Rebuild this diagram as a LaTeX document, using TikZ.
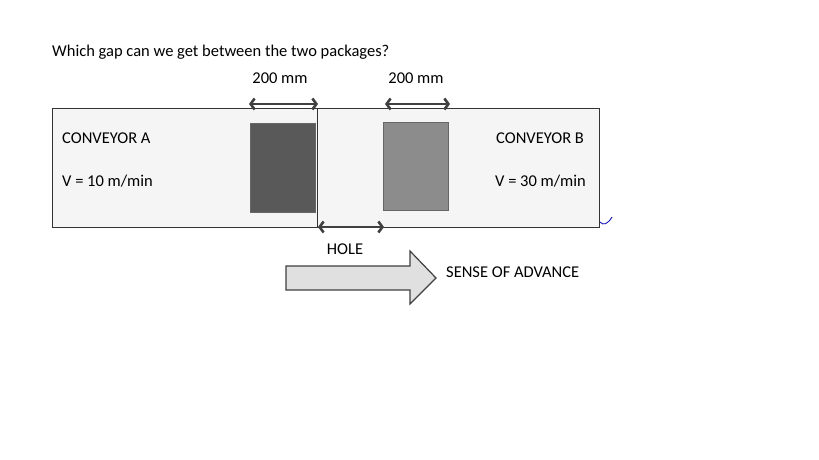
\documentclass[tikz,border=0pt]{standalone}
\usepackage{fontspec}
\setmainfont{Carlito}
\usetikzlibrary{arrows.meta}
\begin{document}
\begin{tikzpicture}[x=1pt,y=-1pt,
  lbl/.style={font=\fontsize{16.5}{19}\selectfont,inner sep=0pt},
  belt/.style={draw=black!80,fill=black!4,line width=0.6pt},
  pkg/.style={draw=black!60,line width=0.5pt},
  dim/.style={{Straight Barb[length=4pt,width=11pt,line width=2.6pt]}-{Straight Barb[length=4pt,width=11pt,line width=2.6pt]},line width=2.6pt,draw=black!75}]
\useasboundingbox (0,0) rectangle (819,460);
\fill[white] (0,0) rectangle (819,460);
\draw[belt] (52,108) rectangle (317,227);
\draw[belt] (317,108) rectangle (599,227);
\node[pkg,fill=black!65,minimum width=65pt,minimum height=89pt,inner sep=0pt] (p1) at (282.5,167.5) {};
\node[pkg,fill=black!45,minimum width=65pt,minimum height=88pt,inner sep=0pt] (p2) at (415.5,166) {};
\coordinate (a1) at (249,104); \coordinate (a2) at (318,104);
\coordinate (b1) at (385,104); \coordinate (b2) at (450,104);
\coordinate (h1) at (318,227); \coordinate (h2) at (384,227);
\draw[dim] (a1) -- (a2);
\draw[dim] (b1) -- (b2);
\draw[dim] (h1) -- (h2);
\node[lbl,anchor=west] (t) at (52,52) {Which gap can we get between the two packages?};
\node[lbl] (d1) at (280,78) {200 mm};
\node[lbl] (d2) at (416,78) {200 mm};
\node[lbl,anchor=west] (ca) at (62,138) {CONVEYOR A};
\node[lbl,anchor=west] (va) at (62,181) {V = 10 m/min};
\node[lbl,anchor=west] (cb) at (496,138) {CONVEYOR B};
\node[lbl,anchor=west] (vb) at (495,181) {V = 30 m/min};
\node[lbl] (hole) at (345,249) {HOLE};
\draw[draw=black!75,fill=black!12,line width=1.2pt,line join=miter]
  (286,266) -- (410,266) -- (410,251) -- (436,278) -- (410,304) -- (410,290) -- (286,290) -- cycle;
\node[lbl,anchor=west] (sa) at (446,272) {SENSE OF ADVANCE};
\draw[blue!70!black,line width=0.8pt] (600,222) .. controls (603,226) and (608,224) .. (612,217);
\end{tikzpicture}
\end{document}
